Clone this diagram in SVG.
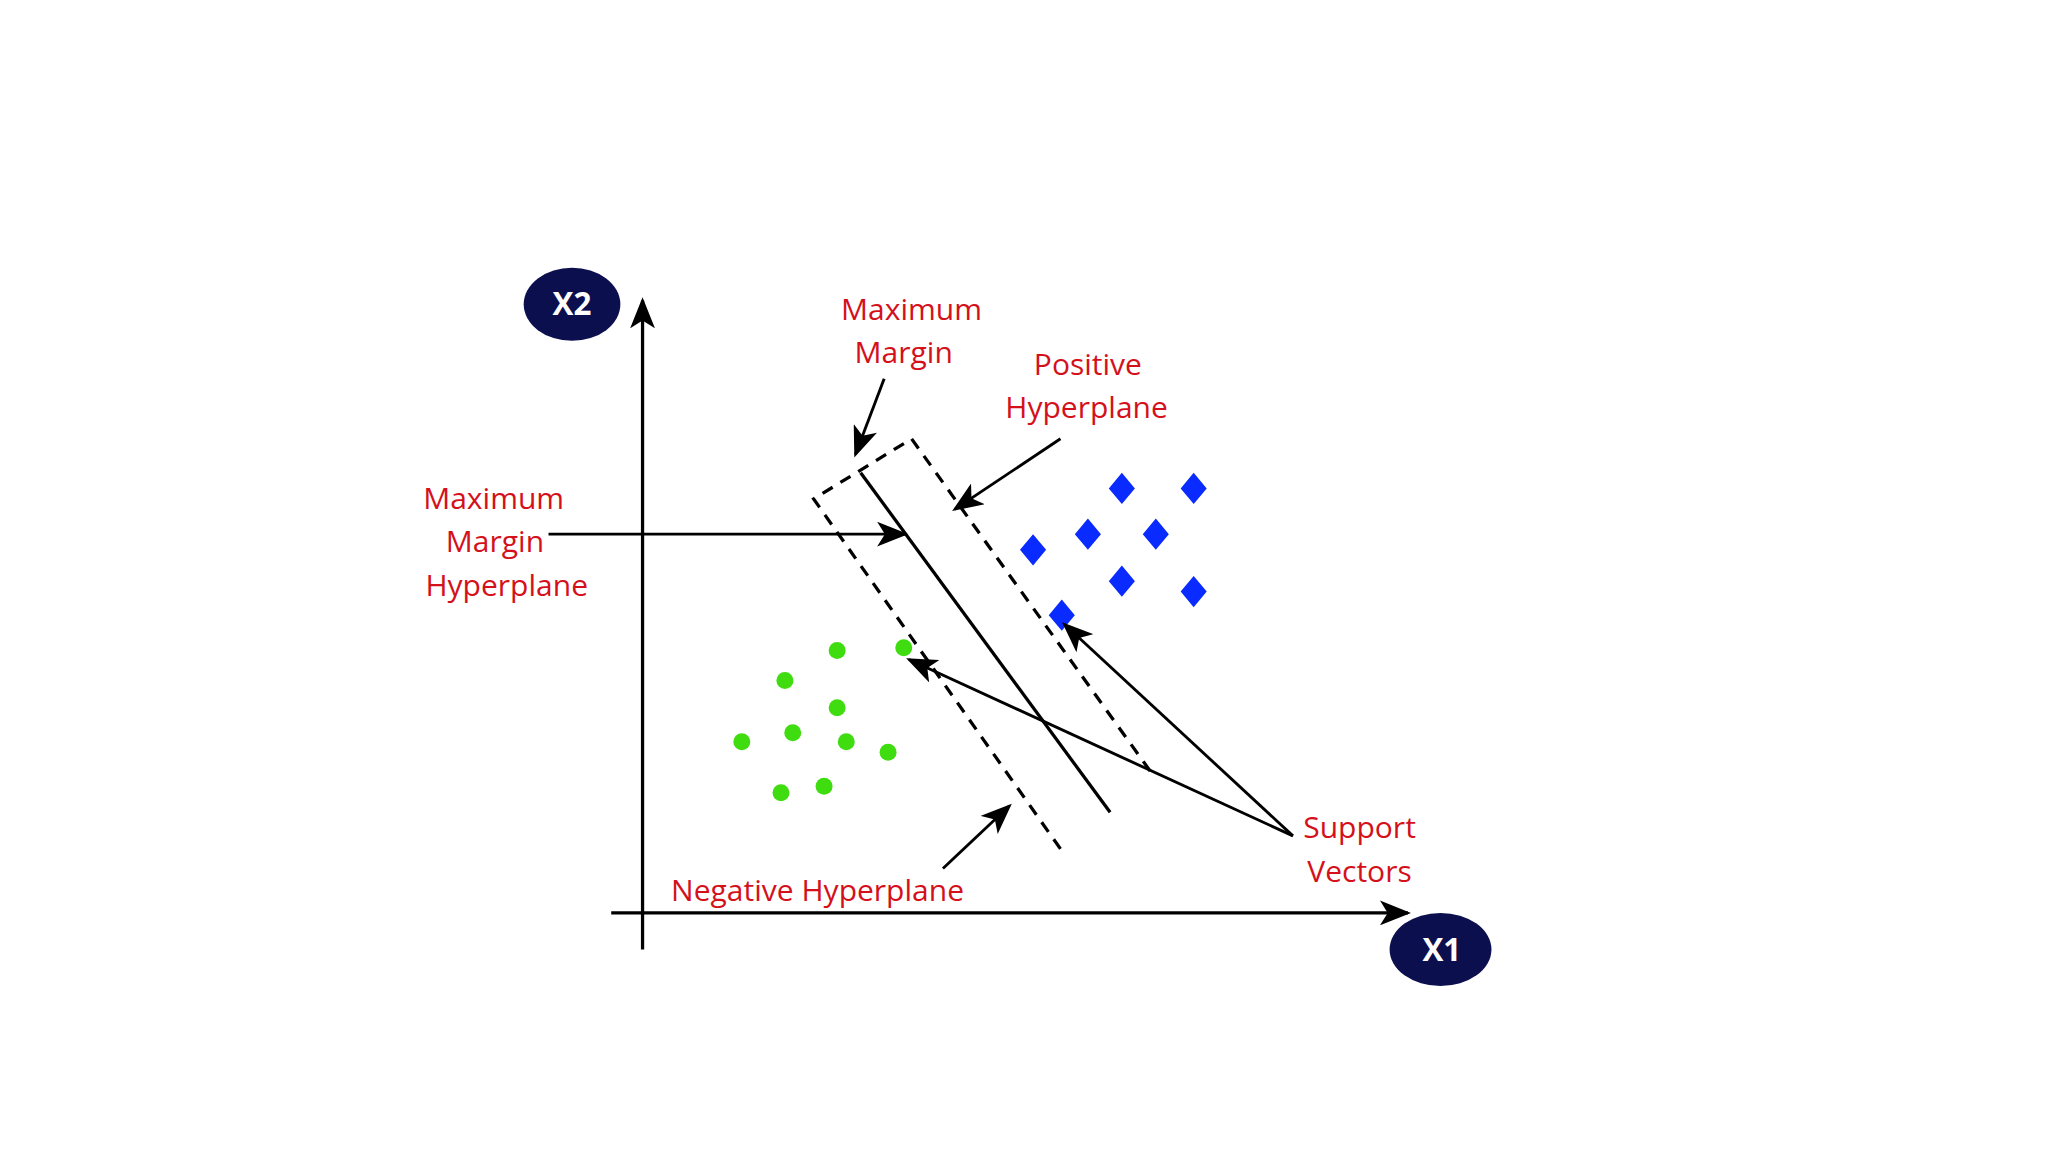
<svg xmlns="http://www.w3.org/2000/svg" width="2048" height="1152" viewBox="0 0 2048 1152">
<style>
.t{font-family:"Open Sans","Liberation Sans",sans-serif;font-size:23px;fill:#d4111b;text-anchor:middle}
.w{font-family:"Open Sans","Liberation Sans",sans-serif;font-size:24px;font-weight:bold;fill:#fff;text-anchor:middle}
.l{stroke:#000;stroke-width:2.5;fill:none}
.d{stroke:#000;stroke-width:2.5;fill:none;stroke-dasharray:9 7}
.a{stroke:#000;stroke-width:2.2;fill:none;marker-end:url(#ah)}
.dm{fill:#0a2bff}
.g{fill:#3fdc10}
</style>
<defs>
<marker id="ah" viewBox="0 0 20 16" refX="18" refY="8" markerWidth="24" markerHeight="19" markerUnits="userSpaceOnUse" orient="auto"><path d="M0,0 L20,8 L0,16 L5,8 Z" fill="#000"/></marker>
<marker id="ax" viewBox="0 0 20 16" refX="18" refY="8" markerWidth="24" markerHeight="19" markerUnits="userSpaceOnUse" orient="auto"><path d="M0,0 L20,8 L0,16 L5,8 Z" fill="#000"/></marker>
</defs>
<rect width="2048" height="1152" fill="#fff"/>
<g transform="scale(1.306)">
<g id="axes">
<line class="l" x1="492" y1="727" x2="492" y2="230" marker-end="url(#ax)"/>
<line class="l" x1="468" y1="699" x2="1078" y2="699" marker-end="url(#ax)"/>
</g>
<g id="x2"><ellipse cx="438" cy="233" rx="37" ry="28" fill="#0c0f4e"/><text class="w" x="438" y="241">X2</text></g>
<g id="x1"><ellipse cx="1103" cy="727" rx="39" ry="28" fill="#0c0f4e"/><text class="w" x="1104" y="736">X1</text></g>
<g id="hyperplanes">
<path class="d" d="M812,650 L623,382 L698,336 L884,595"/>
<line class="l" x1="659" y1="362" x2="850" y2="622"/>
</g>
<g id="positive-points">
<path class="dm" d="M859,362 l10,12 l-10,12 l-10,-12z M914,362 l10,12 l-10,12 l-10,-12z M833,397 l10,12 l-10,12 l-10,-12z M885,397 l10,12 l-10,12 l-10,-12z M791,409 l10,12 l-10,12 l-10,-12z M859,433 l10,12 l-10,12 l-10,-12z M914,441 l10,12 l-10,12 l-10,-12z M813,459 l10,12 l-10,12 l-10,-12z"/>
</g>
<g id="negative-points">
<circle class="g" cx="641" cy="498" r="6.5"/><circle class="g" cx="692" cy="496" r="6.5"/>
<circle class="g" cx="601" cy="521" r="6.5"/><circle class="g" cx="641" cy="542" r="6.5"/>
<circle class="g" cx="607" cy="561" r="6.5"/><circle class="g" cx="648" cy="568" r="6.5"/>
<circle class="g" cx="568" cy="568" r="6.5"/><circle class="g" cx="680" cy="576" r="6.5"/>
<circle class="g" cx="598" cy="607" r="6.5"/><circle class="g" cx="631" cy="602" r="6.5"/>
</g>
<g id="connectors">
<line class="a" x1="677" y1="290" x2="655" y2="348"/>
<line class="a" x1="812" y1="336" x2="731" y2="390"/>
<line class="a" x1="420" y1="409" x2="693" y2="409"/>
<line class="a" x1="722" y1="665" x2="773" y2="617"/>
<line class="a" x1="990" y1="640" x2="696" y2="505"/>
<line class="a" x1="990" y1="640" x2="815" y2="478"/>
</g>
<g id="labels">
<text class="t" x="698" y="245">Maximum</text><text class="t" x="692" y="278">Margin</text>
<text class="t" x="833" y="287">Positive</text><text class="t" x="832" y="320">Hyperplane</text>
<text class="t" x="378" y="390">Maximum</text><text class="t" x="379" y="423">Margin</text><text class="t" x="388" y="456">Hyperplane</text>
<text class="t" x="626" y="690">Negative Hyperplane</text>
<text class="t" x="1041" y="642">Support</text><text class="t" x="1041" y="675">Vectors</text>
</g>
</g>
</svg>
